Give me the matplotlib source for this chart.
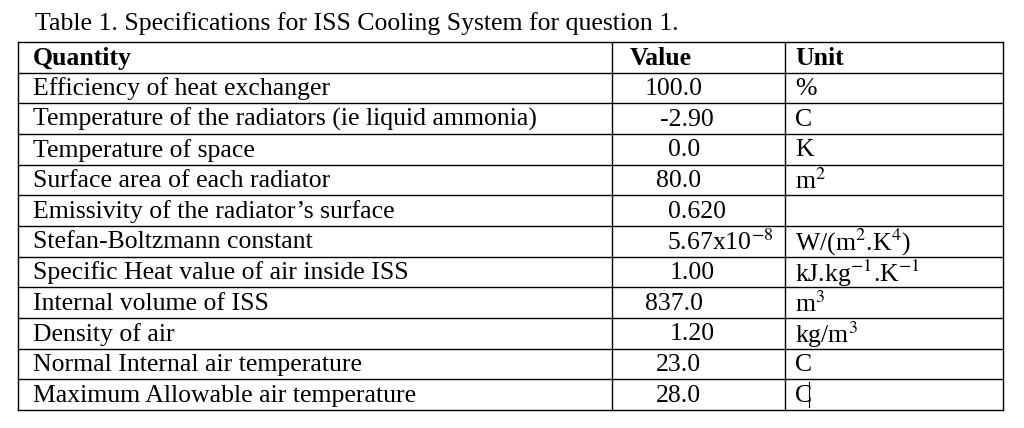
import matplotlib
matplotlib.use("Agg")
import matplotlib.pyplot as plt

plt.rcParams['font.family'] = ['Liberation Serif']
plt.rcParams['mathtext.fontset'] = 'stix'

title = "Table 1. Specifications for ISS Cooling System for question 1."
headers = ["Quantity", "Value", "Unit"]
quantities = ["Efficiency of heat exchanger",
              "Temperature of the radiators (ie liquid ammonia)",
              "Temperature of space",
              "Surface area of each radiator",
              "Emissivity of the radiator\u2019s surface",
              "Stefan-Boltzmann constant",
              "Specific Heat value of air inside ISS",
              "Internal volume of ISS",
              "Density of air",
              "Normal Internal air temperature",
              "Maximum Allowable air temperature"]
values = ["100.0", "-2.90", "0.0", "80.0", "0.620", r"5.67x10$^{-8}$",
          "1.00", "837.0", "1.20", "23.0", "28.0"]
units = ["%", "C", "K", r"m$^{2}$", "", r"W/(m$^{2}$.K$^{4}$)",
         r"kJ.kg$^{-1}$.K$^{-1}$", r"m$^{3}$", r"kg/m$^{3}$", "C", "C"]

value_x = [645, 660, 668, 656, 668, 667, 670, 645, 670, 656, 656]

fig = plt.figure(figsize=(10.24, 4.28), dpi=100)
ax = fig.add_axes([0, 0, 1, 1])
ax.set_xlim(0, 1024)
ax.set_ylim(428, 0)
ax.axis('off')

fs = 18.5
ax.text(35, 24, title, fontsize=fs, va='center', ha='left')

left, c1, c2, right = 18, 612, 785, 1003
top, bottom = 42, 410
n = len(quantities) + 1
rh = (bottom - top) / n
lw = 1.0
for i in range(n + 1):
    y = top + i * rh
    ax.plot([left, right], [y, y], color='black', lw=lw)
for x in (left, c1, c2, right):
    ax.plot([x, x], [top, bottom], color='black', lw=lw)

yc = top + rh / 2 + 1
ax.text(33, yc, headers[0], fontsize=fs, fontweight='bold', va='center')
ax.text(630, yc, headers[1], fontsize=fs, fontweight='bold', va='center')
ax.text(795, yc, headers[2], fontsize=fs, fontweight='bold', va='center')

for i, (q, v, u, vx) in enumerate(zip(quantities, values, units, value_x)):
    y = top + (i + 1.5) * rh + 1
    ax.text(33, y, q, fontsize=fs, va='center')
    ax.text(vx, y, v, fontsize=fs, va='center')
    if u:
        ax.text(795, y, u, fontsize=fs, va='center')

# text cursor in last cell
ax.plot([809, 809], [top + (n - 0.9) * rh, top + (n - 0.1) * rh], color='black', lw=0.8)

fig.savefig("out.png", dpi=100, facecolor='white')
